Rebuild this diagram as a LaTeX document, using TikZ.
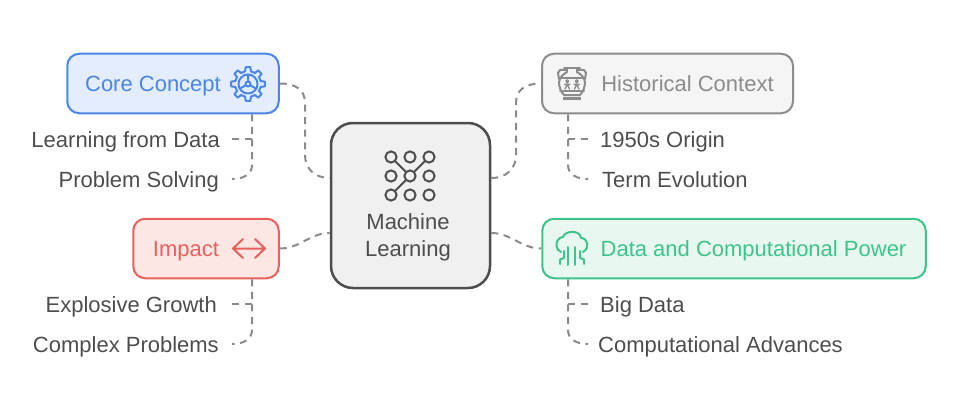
\documentclass[tikz,border=0pt]{standalone}
\usepackage{fontspec}
\setmainfont{Liberation Sans}
\usetikzlibrary{arrows.meta,positioning,calc}
\definecolor{mlink}{HTML}{8A8A8A}
\definecolor{mtext}{HTML}{4D4D4D}
\definecolor{mcentre}{HTML}{F0F0F0}
\definecolor{mblue}{HTML}{4A86E8}
\definecolor{mbluelight}{HTML}{E3EDFD}
\definecolor{mgrey}{HTML}{8C8C8C}
\definecolor{mgreylight}{HTML}{F5F5F5}
\definecolor{mgreen}{HTML}{3CC48A}
\definecolor{mgreenlight}{HTML}{E8F8F1}
\definecolor{mred}{HTML}{E8605C}
\definecolor{mredlight}{HTML}{FDE7E5}
\begin{document}
\begin{tikzpicture}[x=1pt,y=-1pt,every node/.style={font=\fontsize{22}{27}\selectfont,align=center}]
\tikzset{
  topic/.style 2 args={draw=#1,fill=#2,line width=2pt,rounded corners=12pt,inner sep=0pt,minimum height=59.5pt},
  oneline/.style={text height=16pt,text depth=0pt},
  leafleft/.style={oneline,text=mtext,anchor=east,inner ysep=0pt,inner xsep=#1},
  leafright/.style={oneline,text=mtext,anchor=west,inner ysep=0pt,inner xsep=#1},
  link/.style={draw=mlink,line width=2pt,dash pattern=on 7pt off 5.6pt},
  icon/.style={draw=#1,line width=2pt,line join=round,line cap=round}
}
\useasboundingbox (0,0) rectangle (953,412);
% centre
\node[draw=mtext,fill=mcentre,line width=2.5pt,rounded corners=22pt,minimum width=159pt,minimum height=165pt,inner sep=0pt] (centre) at (410.5,205.5) {};
\node[text=mtext] (centretext) at (408,237.5) {Machine\\Learning};
% topics
\node[topic={mblue}{mbluelight},minimum width=211.5pt] (core) at (173,83.5) {};
\node[topic={mgrey}{mgreylight},minimum width=251pt] (history) at (667.5,83.5) {};
\node[topic={mred}{mredlight},minimum width=145.5pt] (impact) at (206,248.5) {};
\node[topic={mgreen}{mgreenlight},minimum width=383.5pt] (power) at (734,248.5) {};
\node[oneline,text=mblue] (coretext) at (153,83.5) {Core Concept};
\node[oneline,text=mgrey] (historytext) at (687.5,83.5) {Historical Context};
\node[oneline,text=mred] (impacttext) at (186,248.5) {Impact};
\node[oneline,text=mgreen] (powertext) at (753.5,248.5) {Data and Computational Power};
% leaves
\node[leafleft=12pt] (learning) at (232,139) {Learning from Data};
\node[leafleft=13pt] (solving) at (232,179) {Problem Solving};
\node[leafleft=15pt] (growth) at (232,304) {Explosive Growth};
\node[leafleft=13pt] (problems) at (232,344) {Complex Problems};
\node[leafright=12pt] (origin) at (588,139) {1950s Origin};
\node[leafright=14pt] (evolution) at (588,179) {Term Evolution};
\node[leafright=12pt] (bigdata) at (588,304) {Big Data};
\node[leafright=10pt] (advances) at (588,344) {Computational Advances};
% anchors on the boxes
\coordinate (centrewa) at ($(centre.west)+(0,-27.5)$);
\coordinate (centrewb) at ($(centre.west)+(0,27.5)$);
\coordinate (centreea) at ($(centre.east)+(0,-27.5)$);
\coordinate (centreeb) at ($(centre.east)+(0,27.5)$);
\coordinate (coredrop) at (core.south -| 252,0);
\coordinate (impactdrop) at (impact.south -| 252,0);
\coordinate (historydrop) at (history.south -| 568,0);
\coordinate (powerdrop) at (power.south -| 568,0);
% main links
\draw[link] (core.east) .. controls (296,83.5) and (305,90) .. (305,103) -- (305,155) .. controls (305,168) and (314,178) .. (centrewa);
\draw[link] (impact.east) .. controls (300,248.5) and (310,233) .. (centrewb);
\draw[link] (centreea) .. controls (507,178) and (516,168) .. (516,155) -- (516,103) .. controls (516,90) and (525,83.5) .. (history.west);
\draw[link] (centreeb) .. controls (511,233) and (521,248.5) .. (power.west);
% leaf links
\foreach \drop/\first/\second/\ya/\yb in {coredrop/learning/solving/139/165,impactdrop/growth/problems/304/330}{
  \draw[link] (\drop) -- (252,\yb) .. controls (252,\yb+9) and (244,\yb+14) .. (\second.east);
  \draw[link] (252,\ya) -- (\first.east);
}
\foreach \drop/\first/\second/\ya/\yb in {historydrop/origin/evolution/139/165,powerdrop/bigdata/advances/304/330}{
  \draw[link] (\drop) -- (568,\yb) .. controls (568,\yb+9) and (576,\yb+14) .. (\second.west);
  \draw[link] (568,\ya) -- (\first.west);
}
% centre icon
\foreach \x in {391,410,429}\foreach \y in {157,176,195}
  \draw[icon=mtext] (\x,\y) circle (5.6);
\draw[icon=mtext] (395,161) -- (406,172) (425,161) -- (414,172) (406,180) -- (395,191);
% gear
\begin{scope}[shift={(248,84)}]
\draw[icon=mblue] (-13:13) \foreach \a in {0,45,...,315}{ -- (\a-13:13) -- (\a-8:17) -- (\a+8:17) -- (\a+13:13)} -- cycle;
\draw[icon=mblue] (0,0) circle (9.5) (0,0) circle (2.5);
\draw[icon=mblue] (0,-2.5) -- (0,-9.5) (2.2,1.2) -- (8.2,4.7) (-2.2,1.2) -- (-8.2,4.7);
\end{scope}
% arrows
\draw[icon=mred] (233,248.5) -- (265,248.5) (243,239) -- (233,248.5) -- (243,258) (255,239) -- (265,248.5) -- (255,258);
% urn
\begin{scope}[shift={(572,84)}]
\draw[icon=mgrey] (-8,-16) -- (8,-16) (-5,-16) -- (-5,-12) (5,-16) -- (5,-12);
\draw[icon=mgrey] (-5,-12) .. controls (-8,-10) and (-12,-8) .. (-13,-2) .. controls (-13,3) and (-11,8) .. (-8,11) -- (8,11) .. controls (11,8) and (13,3) .. (13,-2) .. controls (12,-8) and (8,-10) .. (5,-12);
\draw[icon=mgrey] (-6,-14) -- (-12,-14) -- (-14,-11) -- (-13,-5) (6,-14) -- (12,-14) -- (14,-11) -- (13,-5);
\draw[icon=mgrey] (-12,-6) -- (12,-6) (-12,7) -- (12,7);
\draw[icon=mgrey,line width=3pt,line cap=butt] (-9,14.5) -- (9,14.5);
\foreach \x in {-4.7,4.7}{
  \draw[icon=mgrey,line width=1.4pt] (\x,-2.7) circle (1.4) (\x-2.6,0.3) -- (\x+2.6,0.3) (\x,0.3) -- (\x-2.2,5) (\x,0.3) -- (\x+2.2,5);
}
\end{scope}
% cloud
\draw[icon=mgreen] (561,252) .. controls (556,250) and (555,243) .. (558,240) .. controls (559,238) and (561,237) .. (563,237) .. controls (564,231) and (580,229) .. (581,238) .. controls (588,238) and (590,248) .. (583,252);
\draw[icon=mgreen] (568,247) -- (568,265) (575,247) -- (575,265);
\draw[icon=mgreen] (564,251) -- (564,258) -- (560,259.5) -- (560,264) (580,251) -- (580,258) -- (584,259.5) -- (584,264);
\end{tikzpicture}
\end{document}
